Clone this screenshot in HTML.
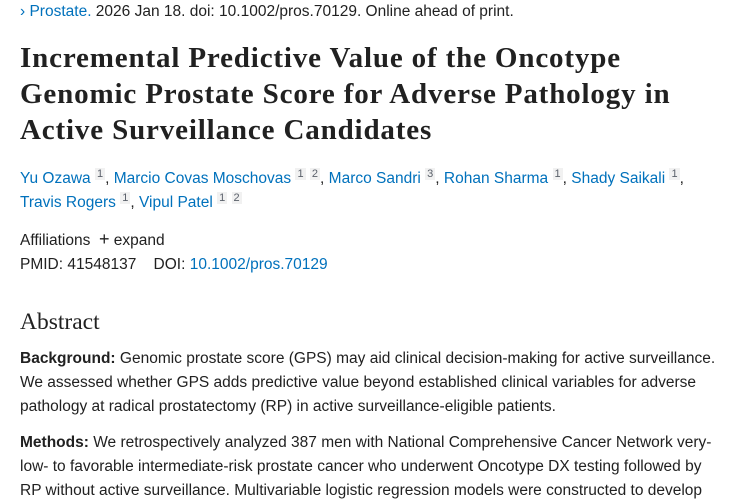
<!DOCTYPE html>
<html><head><meta charset="utf-8"><style>
body{margin:0;width:750px;height:500px;overflow:hidden;background:#fff;color:#212121;font-family:"Liberation Sans",sans-serif;}
.l{position:absolute;left:20px;white-space:nowrap;font-size:15.5px;line-height:24px;}
a{color:#0071bc;text-decoration:none}
.t{position:absolute;left:20px;white-space:nowrap;font-family:"Liberation Serif",serif;font-weight:bold;font-size:29px;line-height:36px;letter-spacing:0.85px;color:#212121}
sup{font-size:11px;color:#5b616b;background:#f1f1f1;padding:0 2px;vertical-align:6px;line-height:0}
b{font-weight:bold}
</style></head><body>
<div class="l" style="top:0px;left:20px"><a href="#">&#x203A; Prostate.</a> 2026 Jan 18. doi: 10.1002/pros.70129. Online ahead of print.</div>
<div>
<div class="t" style="top:40px">Incremental Predictive Value of the Oncotype</div>
<div class="t" style="top:76px">Genomic Prostate Score for Adverse Pathology in</div>
<div class="t" style="top:112px">Active Surveillance Candidates</div>
</div>
<div>
<div class="l" style="top:167px"><a href="#">Yu Ozawa</a> <sup>1</sup>, <a href="#">Marcio Covas Moschovas</a> <sup>1</sup> <sup>2</sup>, <a href="#">Marco Sandri</a> <sup>3</sup>, <a href="#">Rohan Sharma</a> <sup>1</sup>, <a href="#">Shady Saikali</a> <sup>1</sup>,</div>
<div class="l" style="top:191px"><a href="#">Travis Rogers</a> <sup>1</sup>, <a href="#">Vipul Patel</a> <sup>1</sup> <sup>2</sup></div>
</div>
<div class="l" style="top:227px">Affiliations &nbsp;<span style="font-size:18px">+</span> expand</div>
<div class="l" style="top:253px">PMID: 41548137 &nbsp;&nbsp; DOI: <a href="#">10.1002/pros.70129</a></div>
<div style="position:absolute;left:20px;top:308px;font-family:'Liberation Serif',serif;font-size:23.5px;line-height:28px">Abstract</div>
<div>
<div class="l" style="top:347px"><b>Background:</b> Genomic prostate score (GPS) may aid clinical decision-making for active surveillance.</div>
<div class="l" style="top:371px">We assessed whether GPS adds predictive value beyond established clinical variables for adverse</div>
<div class="l" style="top:395px">pathology at radical prostatectomy (RP) in active surveillance-eligible patients.</div>
</div>
<div>
<div class="l" style="top:431px"><b>Methods:</b> We retrospectively analyzed 387 men with National Comprehensive Cancer Network very-</div>
<div class="l" style="top:455px">low- to favorable intermediate-risk prostate cancer who underwent Oncotype DX testing followed by</div>
<div class="l" style="top:479px">RP without active surveillance. Multivariable logistic regression models were constructed to develop</div>
</div>
</body></html>
